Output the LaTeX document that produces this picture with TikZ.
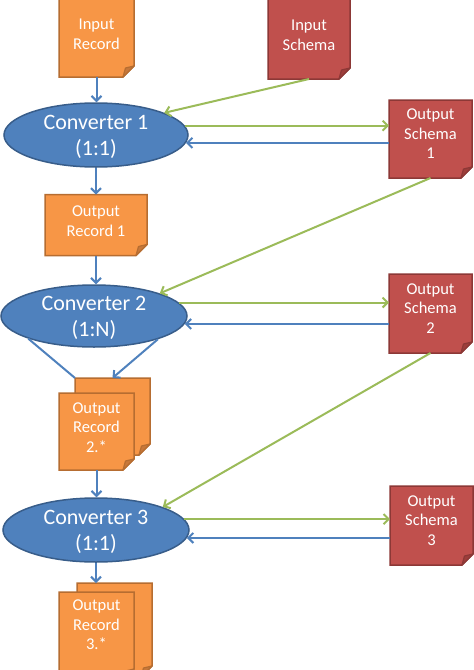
\documentclass[tikz,border=0pt]{standalone}
\usepackage{fontspec}
\setmainfont{Carlito}
\usetikzlibrary{shapes.geometric,arrows.meta,backgrounds}
\definecolor{recfill}{HTML}{F79646}
\definecolor{recline}{HTML}{B66D31}
\definecolor{recfold}{HTML}{C8783A}
\definecolor{schfill}{HTML}{C0504D}
\definecolor{schline}{HTML}{8C3836}
\definecolor{schfold}{HTML}{9E3E3B}
\definecolor{convfill}{HTML}{4F81BD}
\definecolor{convline}{HTML}{385D8A}
\definecolor{arrgreen}{HTML}{9BBB59}
\definecolor{arrblue}{HTML}{4F81BD}
\newcommand\foldshape[4]{%
  \filldraw[fill=#2,draw=#3,line width=1.5pt,line join=miter]
   (#1.north west) -- (#1.north east) -- ([yshift=11pt]#1.south east)
   -- ([xshift=-11pt]#1.south east) -- (#1.south west) -- cycle;
  \filldraw[fill=#4,draw=#3,line width=1.2pt,line join=round]
   ([xshift=-11pt]#1.south east) -- ([yshift=11pt]#1.south east)
   -- ([xshift=-8.5pt,yshift=9pt]#1.south east) -- cycle;
}
\tikzset{
  boxnode/.style={rectangle,inner sep=0pt,outer sep=0pt},
  boxlbl/.style={align=center,text=white,font=\fontsize{16.5}{19.5}\selectfont,yshift=4pt},
  convnode/.style={ellipse,fill=convfill,draw=convline,line width=1.5pt,inner sep=0pt},
  convlbl/.style={align=center,text=white,font=\fontsize{22}{26}\selectfont,yshift=-1.5pt},
  greenline/.style={draw=arrgreen,line width=2pt},
  blueline/.style={draw=arrblue,line width=2pt},
  >={Straight Barb[length=5pt,width=10pt]}
}
\begin{document}
\begin{tikzpicture}[x=1pt,y=-1pt]
\useasboundingbox (0,0) rectangle (474,670);
% record and schema boxes
\node[boxnode,minimum width=75pt,minimum height=82pt,label={[boxlbl,yshift=-2.5pt]center:Input\\Record}] (ir) at (96.5,36) {};
\node[boxnode,minimum width=82pt,minimum height=84pt,label={[boxlbl,yshift=-2.5pt]center:Input\\Schema}] (is) at (309,37) {};
\node[boxnode,minimum width=83pt,minimum height=78pt,label={[boxlbl,yshift=1pt]center:Output\\Schema\\1}] (os1) at (430.5,139) {};
\node[boxnode,minimum width=102pt,minimum height=61pt,label={[boxlbl]center:Output\\Record 1}] (or1) at (96,225) {};
\node[boxnode,minimum width=83pt,minimum height=79pt,label={[boxlbl,yshift=1pt]center:Output\\Schema\\2}] (os2) at (430.5,313.5) {};
\node[boxnode,minimum width=75pt,minimum height=77pt] (or2b) at (112.5,416.5) {};
\node[boxnode,minimum width=75pt,minimum height=77pt,label={[boxlbl]center:Output\\Record\\2.*}] (or2) at (96.5,431.5) {};
\node[boxnode,minimum width=83pt,minimum height=79pt,label={[boxlbl,yshift=1pt]center:Output\\Schema\\3}] (os3) at (431.5,525.5) {};
\node[boxnode,minimum width=75pt,minimum height=94pt] (or3b) at (114.5,630) {};
\node[boxnode,minimum width=75pt,minimum height=88pt,label={[boxlbl,yshift=7pt]center:Output\\Record\\3.*}] (or3) at (96.5,636) {};
\begin{scope}[on background layer]
  \foldshape{ir}{recfill}{recline}{recfold}
  \foldshape{is}{schfill}{schline}{schfold}
  \foldshape{os1}{schfill}{schline}{schfold}
  \foldshape{or1}{recfill}{recline}{recfold}
  \foldshape{os2}{schfill}{schline}{schfold}
  \foldshape{or2b}{recfill}{recline}{recfold}
  \foldshape{or2}{recfill}{recline}{recfold}
  \foldshape{os3}{schfill}{schline}{schfold}
  \foldshape{or3b}{recfill}{recline}{recfold}
  \foldshape{or3}{recfill}{recline}{recfold}
\end{scope}
% converters
\node[convnode,minimum width=184pt,minimum height=64pt,label={[convlbl]center:Converter 1\\(1:1)}] (c1) at (96,135) {};
\node[convnode,minimum width=186pt,minimum height=62pt,label={[convlbl]center:Converter 2\\(1:N)}] (c2) at (94,316) {};
\node[convnode,minimum width=186pt,minimum height=64pt,label={[convlbl]center:Converter 3\\(1:1)}] (c3) at (96,530) {};
% connectors
\draw[blueline,->] (ir.south) -- (ir.south |- c1.north);
\draw[greenline,->] (is.south) -- (c1.18);
\draw[greenline,->] (c1.6.5) -- (c1.6.5 -| os1.west);
\draw[blueline,->] (os1.west |- c1.-5) -- (c1.-5);
\draw[blueline,->] (c1.south) -- (or1.north);
\draw[greenline,->] (os1.south) -- (c2.19);
\draw[blueline,->] (or1.south) -- (or1.south |- c2.north);
\draw[greenline,->] (c2.9.6) -- (c2.9.6 -| os2.west);
\draw[blueline,->] (os2.west |- c2.-5) -- (c2.-5);
\draw[blueline] (c2.199) -- (or2b.north west);
\draw[blueline,->] (c2.-20.6) -- (or2b.north);
\draw[greenline,->] (os2.south) -- (c3.19);
\draw[blueline,->] (or2.south) -- (or2.south |- c3.north);
\draw[greenline,->] (c3.7.9) -- (c3.7.9 -| os3.west);
\draw[blueline,->] (os3.west |- c3.-5.8) -- (c3.-5.8);
\draw[blueline,->] (c3.south) -- (c3.south |- or3b.north);
\end{tikzpicture}
\end{document}
